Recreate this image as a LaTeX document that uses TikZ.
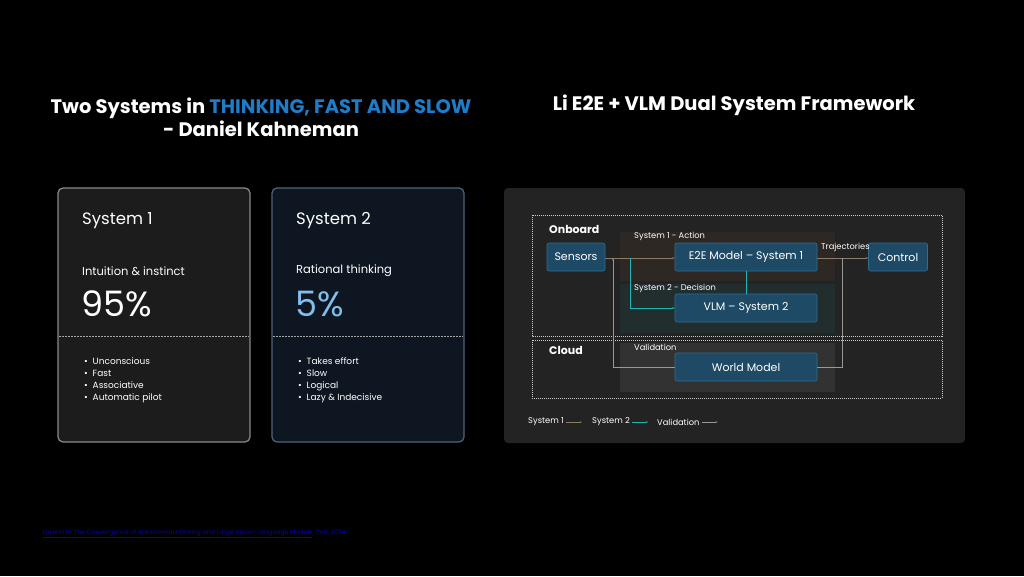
\documentclass[tikz,border=0pt]{standalone}
\usepackage{fontspec}
\setmainfont{Poppins}
\usetikzlibrary{arrows.meta}
\definecolor{panel}{HTML}{232323}
\definecolor{boxf}{HTML}{1E4A66}
\definecolor{boxd}{HTML}{2E6E94}
\definecolor{teal}{HTML}{1FB5B5}
\definecolor{brn}{HTML}{8A7A66}
\definecolor{blu}{HTML}{1E7CC8}
\definecolor{cardA}{HTML}{1C1C1C}
\definecolor{cardAd}{HTML}{8A8A8A}
\definecolor{cardB}{HTML}{0E1621}
\definecolor{cardBd}{HTML}{50647A}
\definecolor{pct}{HTML}{82BEEB}
\definecolor{band1}{HTML}{2E2824}
\definecolor{band2}{HTML}{222E2E}
\definecolor{band3}{HTML}{323232}
\tikzset{x=1pt,y=-1pt,
 bx/.style={draw=boxd,fill=boxf,rounded corners=2pt,text=white!85,font=\fontsize{11}{12}\selectfont,line width=0.6pt},
 sm/.style={text=white!80,font=\fontsize{8.3}{9}\selectfont,anchor=west,inner sep=0},
 card/.style={rounded corners=5pt,line width=1.2pt},
 bul/.style={text=white!85,font=\fontsize{9}{12.3}\selectfont,anchor=north west,align=left,inner sep=0}}
\begin{document}
\begin{tikzpicture}
\fill[black] (0,0) rectangle (1024,576);
\useasboundingbox (0,0) rectangle (1024,576);
\node[text=white,font=\fontsize{19.5}{23}\bfseries\selectfont,align=center] (t1) at (261,117) {Two Systems in {\color{blu}THINKING, FAST AND SLOW}\\- Daniel Kahneman};
\node[text=white,font=\fontsize{19.5}{23}\bfseries\selectfont] (t2) at (734,105) {Li E2E + VLM Dual System Framework};
% cards
\filldraw[card,fill=cardA,draw=cardAd] (58,188) rectangle (250,442);
\filldraw[card,fill=cardB,draw=cardBd] (272,188) rectangle (464,442);
\draw[gray!70,dash pattern=on 1.5pt off 1.5pt] (59,336) -- (249,336);
\draw[gray!70,dash pattern=on 1.5pt off 1.5pt] (273,336) -- (463,336);
\node[text=white,font=\fontsize{16.5}{18}\selectfont,anchor=west,inner sep=0] (s1) at (82,221) {System 1};
\node[text=white,font=\fontsize{16.5}{18}\selectfont,anchor=west,inner sep=0] (s2) at (296,221) {System 2};
\node[text=white!85,font=\fontsize{11.5}{13}\selectfont,anchor=west,inner sep=0] (i1) at (82,271) {Intuition \& instinct};
\node[text=white!85,font=\fontsize{11.5}{13}\selectfont,anchor=west,inner sep=0] (i2) at (296,271) {Rational thinking};
\node[text=white!85,font=\fontsize{35}{38}\selectfont,anchor=west,inner sep=0] (p1) at (81,304) {95\%};
\node[text=pct,font=\fontsize{35}{38}\selectfont,anchor=west,inner sep=0] (p2) at (295,304) {5\%};
\node[bul] (b1) at (84,357) {•\ \ Unconscious\\•\ \ Fast\\•\ \ Associative\\•\ \ Automatic pilot};
\node[bul] (b2) at (298,357) {•\ \ Takes effort\\•\ \ Slow\\•\ \ Logical\\•\ \ Lazy \& Indecisive};
% panel
\fill[panel,rounded corners=4pt] (504,188) rectangle (965,443);
\draw[gray!40,dash pattern=on 1pt off 1pt] (532,215) rectangle (942,336);
\draw[gray!40,dash pattern=on 1pt off 1pt] (532,340) rectangle (942,398);
\fill[band1] (620,232) rectangle (835,281);
\fill[band2] (620,284) rectangle (835,333);
\fill[band3] (620,343) rectangle (835,392);
\node[text=white,font=\fontsize{11}{12}\bfseries\selectfont,anchor=west,inner sep=0] (ob) at (549,229) {Onboard};
\node[text=white,font=\fontsize{11}{12}\bfseries\selectfont,anchor=west,inner sep=0] (cl) at (549,350) {Cloud};
\node[sm] (l1) at (634,236) {System 1 - Action};
\node[sm] (l2) at (634,288) {System 2 - Decision};
\node[sm] (l3) at (634,347) {Validation};
\node[bx,minimum width=58pt,minimum height=28pt] (sen) at (576,257) {Sensors};
\node[bx,minimum width=142pt,minimum height=28pt] (e2e) at (746,257) {E2E Model – System 1};
\node[bx,minimum width=59pt,minimum height=28pt] (ctl) at (898,257) {Control};
\node[bx,minimum width=142pt,minimum height=28pt] (vlm) at (746,308) {VLM – System 2};
\node[bx,minimum width=142pt,minimum height=28pt] (wm) at (746,367) {World Model};
\node[sm,text=white!75] (tr) at (821,247) {Trajectories};
\coordinate (j1) at (630,258);
\coordinate (j2) at (613,258);
\coordinate (j3) at (842,258);
\draw[brn,line width=0.6pt,-{Stealth[length=2.5pt]}] (sen.east|-j1) -- (e2e.west|-j1);
\draw[brn,line width=0.6pt,-{Stealth[length=2.5pt]}] (e2e.east|-j1) -- (ctl.west|-j1);
\draw[teal,line width=0.6pt,-{Stealth[length=2.5pt]}] (j1) |- (vlm.west);
\draw[teal,line width=0.6pt] (vlm.north) -- (e2e.south);
\draw[gray!80,line width=0.6pt,-{Stealth[length=2.5pt]}] (wm.west) -| (j2);
\draw[gray!80,line width=0.6pt] (wm.east) -| (j3);
% legend
\node[sm,text=white!75] (g1) at (528,422) {System 1};
\draw[brn,line width=0.6pt,-{Stealth[length=2pt]}] (g1.east)++(2,0) -- ++(16,0);
\node[sm,text=white!75] (g2) at (592,422) {System 2};
\draw[teal,line width=0.6pt,-{Stealth[length=2pt]}] (g2.east)++(2,0) -- ++(16,0);
\node[sm,text=white!75] (g3) at (657,422) {Validation};
\draw[gray!80,line width=0.6pt,-{Stealth[length=2pt]}] (g3.east)++(2,0) -- ++(16,0);
\node[text=blue!80!black,font=\fontsize{6.2}{7}\selectfont,anchor=west,inner sep=0] (ref) at (43,534) {\underline{DriveVLM: The Convergence of Autonomous Driving and Large Vision-Language Models}, Corl, 2024};
\end{tikzpicture}
\end{document}
